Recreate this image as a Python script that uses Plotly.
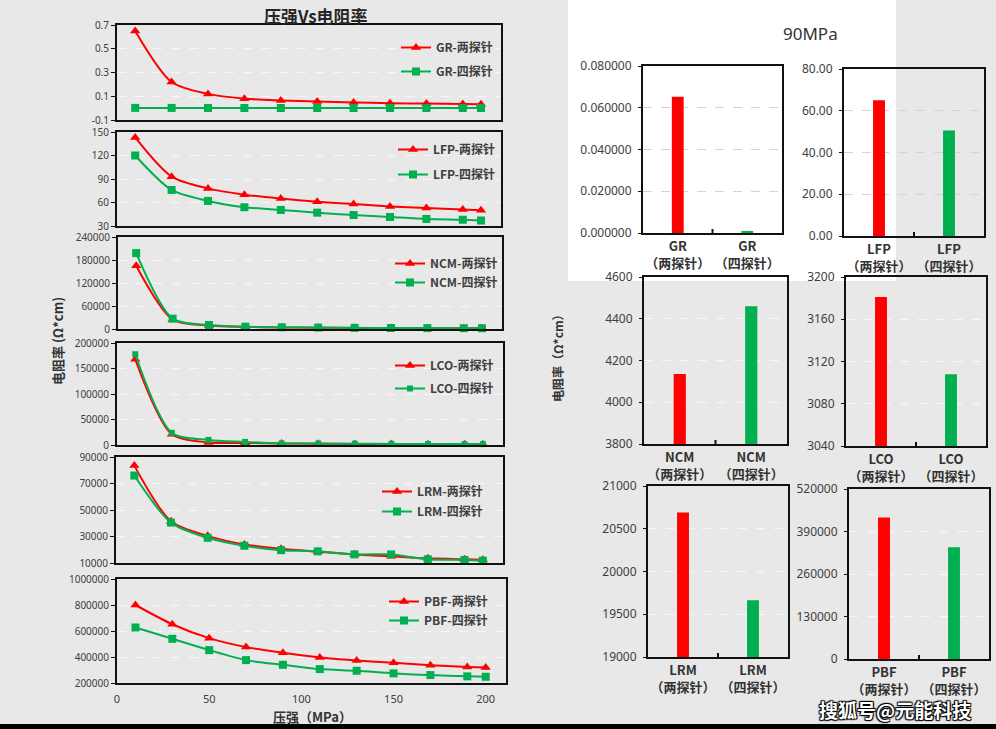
import plotly.graph_objects as go

W, H = 996, 729

# ---------------- data ----------------
pressure = [10, 30, 50, 70, 90, 110, 130, 150, 170, 190, 200]

gr_two = [0.65, 0.22, 0.12, 0.08, 0.065, 0.055, 0.048, 0.042, 0.038, 0.035, 0.033]
gr_four = [0.002, 0.0018, 0.0015, 0.0012, 0.001, 0.001, 0.0009, 0.0009, 0.0008, 0.0008, 0.0008]

lfp_two = [143, 93, 78, 70, 65, 61, 58, 55, 53, 51, 50]
lfp_four = [120, 76, 62, 54, 50.5, 47, 44, 41.5, 39, 38, 37]

ncm_two = [165000, 25000, 9000, 5500, 4140, 3300, 2800, 2400, 2100, 1900, 1800]
ncm_four = [198000, 27000, 10500, 6000, 4460, 3600, 3000, 2600, 2300, 2100, 2000]

lco_two = [168000, 21000, 5000, 4000, 3185, 2600, 2200, 1900, 1700, 1500, 1400]
lco_four = [178000, 24000, 10000, 6000, 3107, 2800, 2500, 2200, 2000, 1800, 1700]

lrm_two = [83500, 41500, 30500, 24000, 20690, 18500, 16500, 15000, 13500, 12800, 12500]
lrm_four = [76000, 40500, 29000, 23000, 19670, 18800, 16500, 16500, 12800, 12300, 11800]

pbf_two = [800000, 652000, 545000, 476000, 432000, 396000, 373000, 355000, 337000, 324000, 319000]
pbf_four = [627000, 540000, 453000, 376000, 340000, 307000, 294000, 274000, 261000, 251000, 248000]

materials = ["GR", "LFP", "NCM", "LCO", "LRM", "PBF"]
probe_two = "两探针"
probe_four = "四探针"

# 90 MPa bar values: [two-probe, four-probe]
bar_gr = [0.0653, 0.0008]
bar_lfp = [65.0, 50.5]
bar_ncm = [4135, 4460]
bar_lco = [3181, 3108]
bar_lrm = [20690, 19665]
bar_pbf = [433000, 342000]

line_ticks = {
    "GR": [-0.1, 0.1, 0.3, 0.5, 0.7],
    "LFP": [30, 60, 90, 120, 150],
    "NCM": [0, 60000, 120000, 180000, 240000],
    "LCO": [0, 50000, 100000, 150000, 200000],
    "LRM": [10000, 30000, 50000, 70000, 90000],
    "PBF": [200000, 400000, 600000, 800000, 1000000],
}
bar_ticks = {
    "GR": [0, 0.02, 0.04, 0.06, 0.08],
    "LFP": [0, 20, 40, 60, 80],
    "NCM": [3800, 4000, 4200, 4400, 4600],
    "LCO": [3040, 3080, 3120, 3160, 3200],
    "LRM": [19000, 19500, 20000, 20500, 21000],
    "PBF": [0, 130000, 260000, 390000, 520000],
}
x_ticks = [0, 50, 100, 150, 200]

# ---------------- helpers ----------------
def xd(l, r):
    return [l / W, r / W]

def yd(t, b):
    return [1 - b / H, 1 - t / H]

RED = "#ff0000"
GREEN = "#00b050"
TICKFONT = dict(family="Noto Sans", size=10, color="#404040")
CJK = "Noto Sans CJK SC"

fig = go.Figure()
layout = dict(
    width=W, height=H, margin=dict(l=0, r=0, t=0, b=0, autoexpand=False),
    paper_bgcolor="#e8e8e8", plot_bgcolor="rgba(0,0,0,0)",
    showlegend=True,
)

line_series = [
    ("GR", gr_two, gr_four),
    ("LFP", lfp_two, lfp_four),
    ("NCM", ncm_two, ncm_four),
    ("LCO", lco_two, lco_four),
    ("LRM", lrm_two, lrm_four),
    ("PBF", pbf_two, pbf_four),
]
# box pixel positions (top, bottom, left, right)
line_boxes = [
    (25, 120, 117, 501),
    (132, 226, 117, 501),
    (237, 329, 118, 502),
    (343, 445, 117, 503),
    (457, 563, 116, 503),
    (579, 683, 117, 506),
]
# legend (x, y top, group gap)
legend_pos = [
    (396, 33, 5),
    (393, 135, 6),
    (390, 249, 0),
    (390, 351, 4),
    (377, 477, 1),
    (384, 587, 0),
]

for i, ((name, two, four), (t, b, l, r), (lx, ly, gap)) in enumerate(zip(line_series, line_boxes, legend_pos)):
    n = i + 1
    xa = "x" if n == 1 else f"x{n}"
    ya = "y" if n == 1 else f"y{n}"
    lg = "legend" if n == 1 else f"legend{n}"
    fig.add_trace(go.Scatter(
        x=pressure, y=two, xaxis=xa, yaxis=ya, legend=lg, legendgroup=f"{name}a",
        name=f"{name}-{probe_two}", mode="lines+markers", line=dict(color=RED, width=2, shape="spline", smoothing=0.8),
        marker=dict(symbol="triangle-up", size=9, color=RED), cliponaxis=False,
    ))
    fig.add_trace(go.Scatter(
        x=pressure, y=four, xaxis=xa, yaxis=ya, legend=lg, legendgroup=f"{name}b",
        name=f"{name}-{probe_four}", mode="lines+markers", line=dict(color=GREEN, width=2, shape="spline", smoothing=0.8),
        marker=dict(symbol="square", size=8 if name != "LCO" else 6, color=GREEN), cliponaxis=False,
    ))
    ticks = line_ticks[name]
    xkey = "xaxis" if n == 1 else f"xaxis{n}"
    ykey = "yaxis" if n == 1 else f"yaxis{n}"
    layout[xkey] = dict(
        domain=xd(l, r), anchor=ya, range=[0, 211], tickvals=x_ticks, automargin=False,
        showticklabels=(n == 6), ticks="", showgrid=False, zeroline=False, ticklabelstandoff=5,
        showline=True, mirror=True, linecolor="#111", linewidth=2,
        tickfont=dict(family="Noto Sans", size=11, color="#404040"),
    )
    layout[ykey] = dict(
        domain=yd(t, b), anchor=xa, range=[ticks[0], ticks[-1]], tickvals=ticks, automargin=False,
        ticktext=[f"{v:g}" if name == "GR" else f"{int(v)}" for v in ticks],
        ticks="outside", ticklen=4, tickcolor="#111",
        showgrid=True, gridcolor="#f7f7f7", griddash="dash", gridwidth=1, zeroline=False,
        showline=True, mirror=True, linecolor="#111", linewidth=2,
        tickfont=TICKFONT,
    )
    layout[lg] = dict(
        x=lx / W, y=1 - ly / H, xanchor="left", yanchor="top",
        bgcolor="rgba(0,0,0,0)", borderwidth=0, itemwidth=30,
        traceorder="grouped", tracegroupgap=gap,
        font=dict(family=CJK, size=12, color="#404040", weight="bold"),
        itemclick=False, itemdoubleclick=False,
    )

bar_series = [
    ("GR", bar_gr, (66, 233, 643, 782), ".6f"),
    ("LFP", bar_lfp, (69, 236, 844, 984), ".2f"),
    ("NCM", bar_ncm, (277, 444, 644, 787), "d"),
    ("LCO", bar_lco, (277, 446, 846, 986), "d"),
    ("LRM", bar_lrm, (486, 657, 648, 788), "d"),
    ("PBF", bar_pbf, (489, 659, 849, 989), "d"),
]

mid_ticks = []
for j, (name, vals, (t, b, l, r), fmt) in enumerate(bar_series):
    n = 7 + j
    xa, ya = f"x{n}", f"y{n}"
    fig.add_trace(go.Bar(
        x=[0, 1], y=vals, xaxis=xa, yaxis=ya, width=0.17,
        marker=dict(color=[RED, GREEN], line=dict(width=0)), showlegend=False,
    ))
    ticks = bar_ticks[name]
    in_white = name in ("GR", "LFP")
    layout[f"xaxis{n}"] = dict(
        domain=xd(l, r), anchor=ya, range=[-0.5, 1.5], automargin=False,
        tickvals=[0, 1],
        ticktext=[f"<b>{name}<br>（{probe_two}）</b>", f"<b>{name}<br>（{probe_four}）</b>"],
        ticks="", showgrid=False, zeroline=False, ticklabelstandoff=0,
        showline=True, mirror=True, linecolor="#111", linewidth=2,
        tickfont=dict(family=CJK, size=13, color="#333333"),
    )
    layout[f"yaxis{n}"] = dict(
        domain=yd(t, b), anchor=xa, range=[ticks[0], ticks[-1]], tickvals=ticks, automargin=False,
        tickformat=fmt, ticks="outside", ticklen=3, tickcolor="#111", ticklabelstandoff=4,
        showgrid=True, gridcolor="#d4d4d4" if in_white else "#f7f7f7", griddash="dash",
        zeroline=False, showline=True, mirror=True, linecolor="#111", linewidth=2,
        tickfont=dict(family="Noto Sans", size=12, color="#404040"),
    )
    # small middle tick at the category boundary
    mid_ticks.append(dict(
        type="line", xref=xa, yref="paper", x0=0.5, x1=0.5,
        y0=1 - b / H, y1=1 - (b - 4) / H, line=dict(color="#111", width=2),
    ))

layout["shapes"] = [
    dict(type="rect", xref="paper", yref="paper", x0=568 / W, x1=896 / W, y0=1 - 281 / H, y1=1,
         fillcolor="white", line=dict(width=0), layer="below"),
    dict(type="rect", xref="paper", yref="paper", x0=0, x1=1, y0=0, y1=1 - 724 / H,
         fillcolor="black", line=dict(width=0), layer="above"),
] + mid_ticks

def ann(text, x, y, size, color="#333333", weight="bold", family=CJK, angle=0, **extra):
    font = dict(family=family, size=size, color=color, weight=weight)
    font.update(extra)
    return dict(text=text, x=x / W, y=1 - y / H, xref="paper", yref="paper",
                xanchor="center", yanchor="middle", textangle=angle,
                showarrow=False, font=font)

layout["annotations"] = [
    ann("压强Vs电阻率", 316, 15, 17, color="#262626"),
    ann("压强（MPa）", 312, 716, 13),
    ann("电阻率 (Ω*cm)", 57, 341, 13, angle=-90),
    ann("电阻率（Ω*cm）", 557, 355, 12, angle=-90),
    ann("90MPa", 810, 33, 17, weight="normal", family="Noto Sans"),
    ann("搜狐号@元能科技", 895, 709, 19, color="white",
        shadow="1px 1px 1px #000, -1px -1px 1px #000, 1px -1px 1px #000, -1px 1px 1px #000"),
]

fig.update_layout(**layout)
fig.write_html("out.html")
